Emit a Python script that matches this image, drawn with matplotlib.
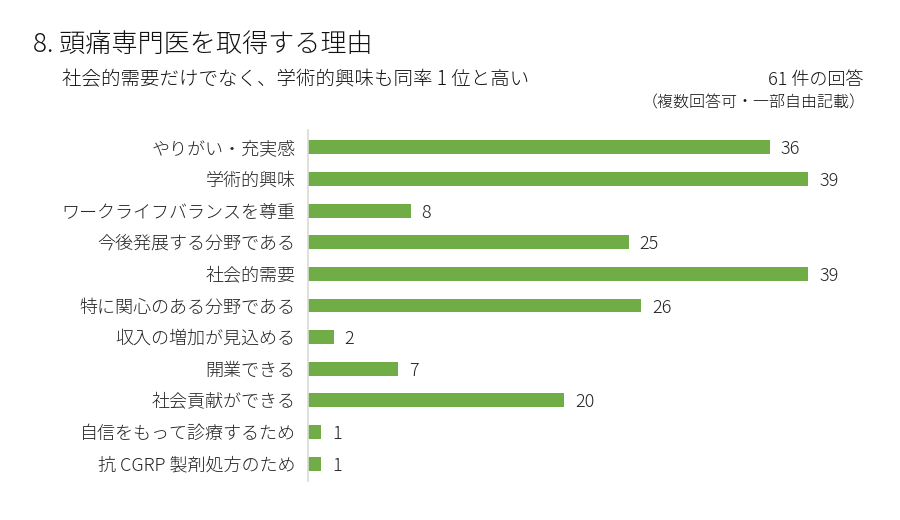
import matplotlib
matplotlib.use("Agg")
import matplotlib.pyplot as plt

plt.rcParams['font.family'] = ['Noto Sans CJK JP', 'DejaVu Sans']
plt.rcParams['font.weight'] = 'light'

categories = [
    "やりがい・充実感",
    "学術的興味",
    "ワークライフバランスを尊重",
    "今後発展する分野である",
    "社会的需要",
    "特に関心のある分野である",
    "収入の増加が見込める",
    "開業できる",
    "社会貢献ができる",
    "自信をもって診療するため",
    "抗 CGRP 製剤処方のため",
]
values = [36, 39, 8, 25, 39, 26, 2, 7, 20, 1, 1]

title = "8. 頭痛専門医を取得する理由"
subtitle = "社会的需要だけでなく、学術的興味も同率 1 位と高い"
count_text = "61 件の回答"
note_text = "（複数回答可・一部自由記載）"

W, H = 900, 520
fig = plt.figure(figsize=(W / 100, H / 100), dpi=100)
fig.patch.set_facecolor("white")

ax_left, ax_right = 308, 885
ax_top, ax_bottom = 130, 481
ax = fig.add_axes([ax_left / W, 1 - ax_bottom / H, (ax_right - ax_left) / W, (ax_bottom - ax_top) / H])

y = list(range(len(categories)))
ax.barh(y, values, height=0.44, color="#70AD47", zorder=2)
ax.set_ylim(len(categories) - 0.45, -0.55)
ax.set_xlim(0, 45)

ax.set_yticks(y)
ax.set_yticklabels(categories, fontsize=13, color="#222222")
ax.tick_params(axis="y", length=0, pad=9)
ax.set_xticks([])

for s in ["top", "right", "bottom"]:
    ax.spines[s].set_visible(False)
ax.spines["left"].set_color("#D9D9D9")
ax.spines["left"].set_linewidth(1.2)

for yi, v in zip(y, values):
    ax.annotate(str(v), xy=(v, yi), xytext=(8, -1.5), textcoords="offset points",
                va="center", ha="left", fontsize=13, color="#222222")

fig.text(33 / W, 1 - 45 / H, title, fontsize=18.8, va="center", ha="left", color="#111111")
fig.text(62 / W, 1 - 80 / H, subtitle, fontsize=14, va="center", ha="left", color="#111111")
fig.text(863 / W, 1 - 80 / H, count_text, fontsize=13, va="center", ha="right", color="#111111")
fig.text(866 / W, 1 - 103 / H, note_text, fontsize=11.5, va="center", ha="right", color="#111111")

fig.savefig("out.png", dpi=100, facecolor="white")
